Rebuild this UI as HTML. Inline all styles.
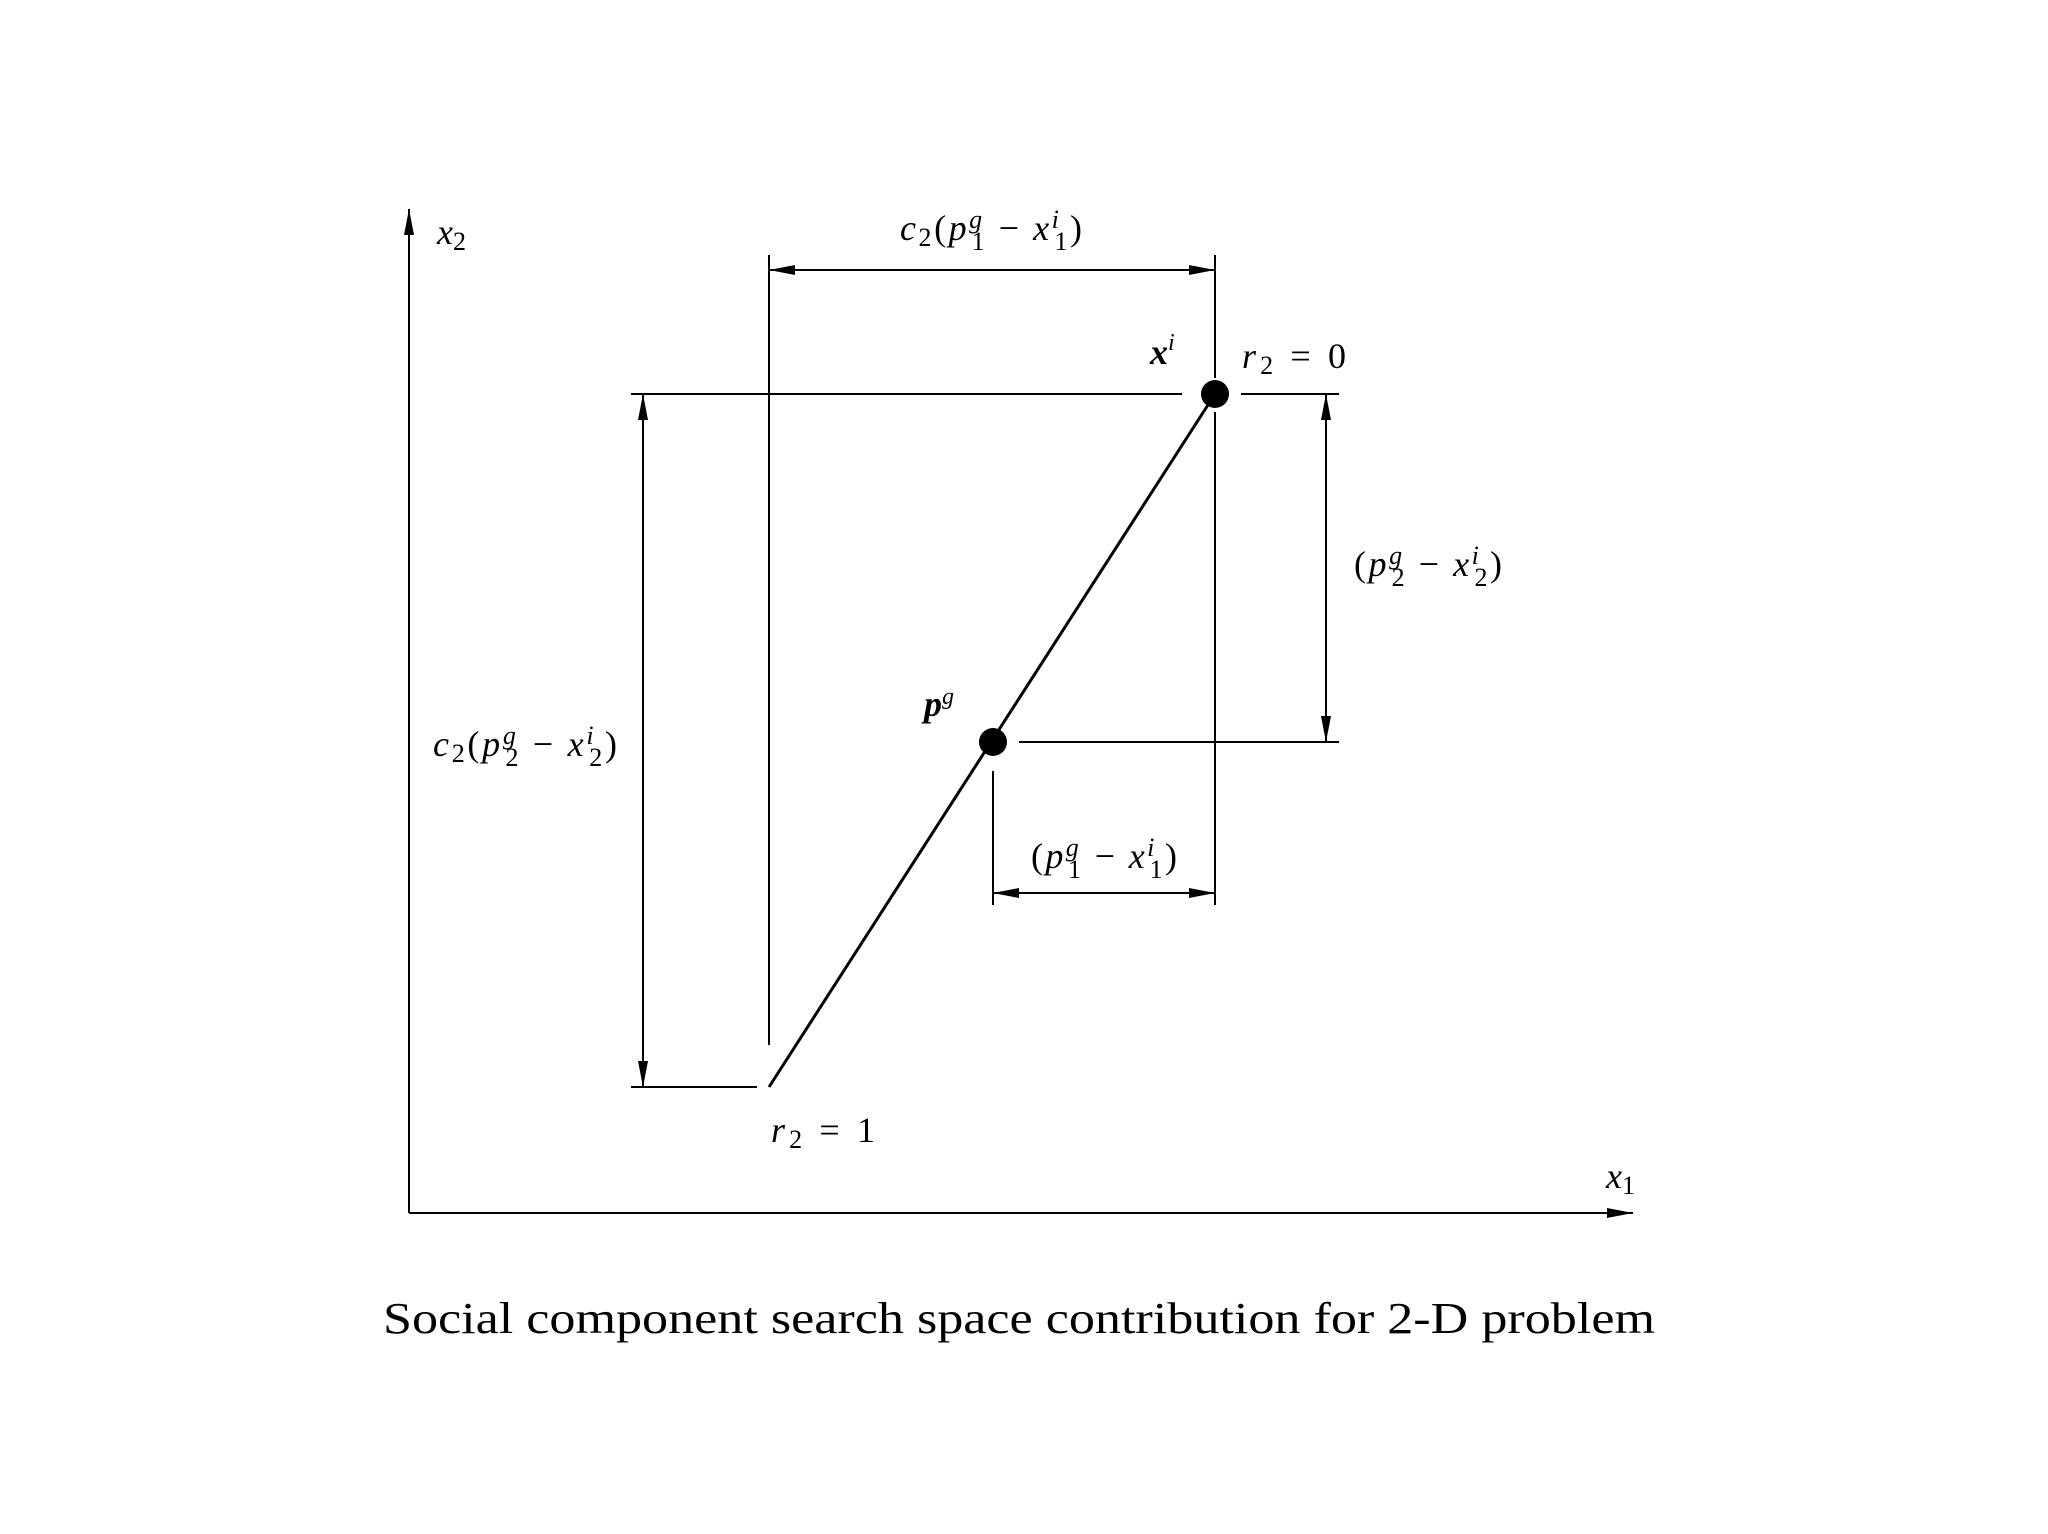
<!DOCTYPE html>
<html><head><meta charset="utf-8"><style>html,body{margin:0;padding:0;background:#fff}svg{display:block}</style></head>
<body>
<svg width="2048" height="1534" viewBox="0 0 2048 1534" xmlns="http://www.w3.org/2000/svg" font-family="Liberation Serif, serif">
<defs>
<marker id="b" viewBox="0 0 26 10" refX="26" refY="5" markerWidth="26" markerHeight="10" markerUnits="userSpaceOnUse" orient="auto-start-reverse">
<path d="M0,0 L26,5 L0,10 z" fill="#000"/>
</marker>
</defs>
<g stroke="#000" stroke-width="2" fill="none">
<line x1="409" y1="1213" x2="409" y2="209" marker-end="url(#b)"/>
<line x1="409" y1="1213" x2="1633" y2="1213" marker-end="url(#b)"/>
<line x1="769" y1="255" x2="769" y2="1045"/>
<line x1="1215" y1="255" x2="1215" y2="378"/>
<line x1="1215" y1="412" x2="1215" y2="905"/>
<line x1="993" y1="771" x2="993" y2="905"/>
<line x1="631" y1="394" x2="1182" y2="394"/>
<line x1="1241" y1="394" x2="1339" y2="394"/>
<line x1="1019" y1="742" x2="1339" y2="742"/>
<line x1="631" y1="1087" x2="757" y2="1087"/>
<line x1="769" y1="270" x2="1215" y2="270" marker-start="url(#b)" marker-end="url(#b)"/>
<line x1="643" y1="394" x2="643" y2="1087" marker-start="url(#b)" marker-end="url(#b)"/>
<line x1="1326" y1="394" x2="1326" y2="742" marker-start="url(#b)" marker-end="url(#b)"/>
<line x1="993" y1="893" x2="1215" y2="893" marker-start="url(#b)" marker-end="url(#b)"/>
</g>
<line x1="1215" y1="394" x2="769" y2="1087" stroke="#000" stroke-width="3"/>
<circle cx="1215" cy="394" r="14" fill="#000"/>
<circle cx="993" cy="742" r="14" fill="#000"/>
<g font-size="36" fill="#000" font-style="italic">
<text x="437" y="244">x<tspan font-size="26" dy="6" font-style="normal">2</tspan></text>
<text x="1606" y="1188">x<tspan font-size="26" dy="6" font-style="normal">1</tspan></text>
<text x="900" y="240" textLength="182">c<tspan font-size="26" dy="6" font-style="normal">2</tspan><tspan dy="-6" font-style="normal">(</tspan>p<tspan font-size="26" dy="-12">g</tspan><tspan font-size="26" dx="-13" dy="22" font-style="normal">1</tspan><tspan dy="-10" font-style="normal"> − </tspan>x<tspan font-size="26" dy="-12">i</tspan><tspan font-size="26" dx="-7" dy="22" font-style="normal">1</tspan><tspan dy="-10" font-style="normal">)</tspan></text>
<text x="1150" y="364" font-weight="bold">x<tspan font-size="24" dy="-14" font-weight="normal">i</tspan></text>
<text x="1242" y="368" textLength="104">r<tspan font-size="26" dy="6" font-style="normal">2</tspan><tspan dy="-6" font-style="normal"> = 0</tspan></text>
<text x="1354" y="576" textLength="148"><tspan font-style="normal">(</tspan>p<tspan font-size="26" dy="-12">g</tspan><tspan font-size="26" dx="-13" dy="22" font-style="normal">2</tspan><tspan dy="-10" font-style="normal"> − </tspan>x<tspan font-size="26" dy="-12">i</tspan><tspan font-size="26" dx="-7" dy="22" font-style="normal">2</tspan><tspan dy="-10" font-style="normal">)</tspan></text>
<text x="924" y="716" font-weight="bold">p<tspan font-size="24" dy="-12" font-weight="normal">g</tspan></text>
<text x="433" y="756" textLength="184">c<tspan font-size="26" dy="6" font-style="normal">2</tspan><tspan dy="-6" font-style="normal">(</tspan>p<tspan font-size="26" dy="-12">g</tspan><tspan font-size="26" dx="-13" dy="22" font-style="normal">2</tspan><tspan dy="-10" font-style="normal"> − </tspan>x<tspan font-size="26" dy="-12">i</tspan><tspan font-size="26" dx="-7" dy="22" font-style="normal">2</tspan><tspan dy="-10" font-style="normal">)</tspan></text>
<text x="1031" y="868" textLength="146"><tspan font-style="normal">(</tspan>p<tspan font-size="26" dy="-12">g</tspan><tspan font-size="26" dx="-13" dy="22" font-style="normal">1</tspan><tspan dy="-10" font-style="normal"> − </tspan>x<tspan font-size="26" dy="-12">i</tspan><tspan font-size="26" dx="-7" dy="22" font-style="normal">1</tspan><tspan dy="-10" font-style="normal">)</tspan></text>
<text x="771" y="1142" textLength="104">r<tspan font-size="26" dy="6" font-style="normal">2</tspan><tspan dy="-6" font-style="normal"> = 1</tspan></text>
</g>
<text x="383" y="1333" font-size="44" fill="#000" textLength="1272" lengthAdjust="spacingAndGlyphs">Social component search space contribution for 2-D problem</text>
</svg>
</body></html>
